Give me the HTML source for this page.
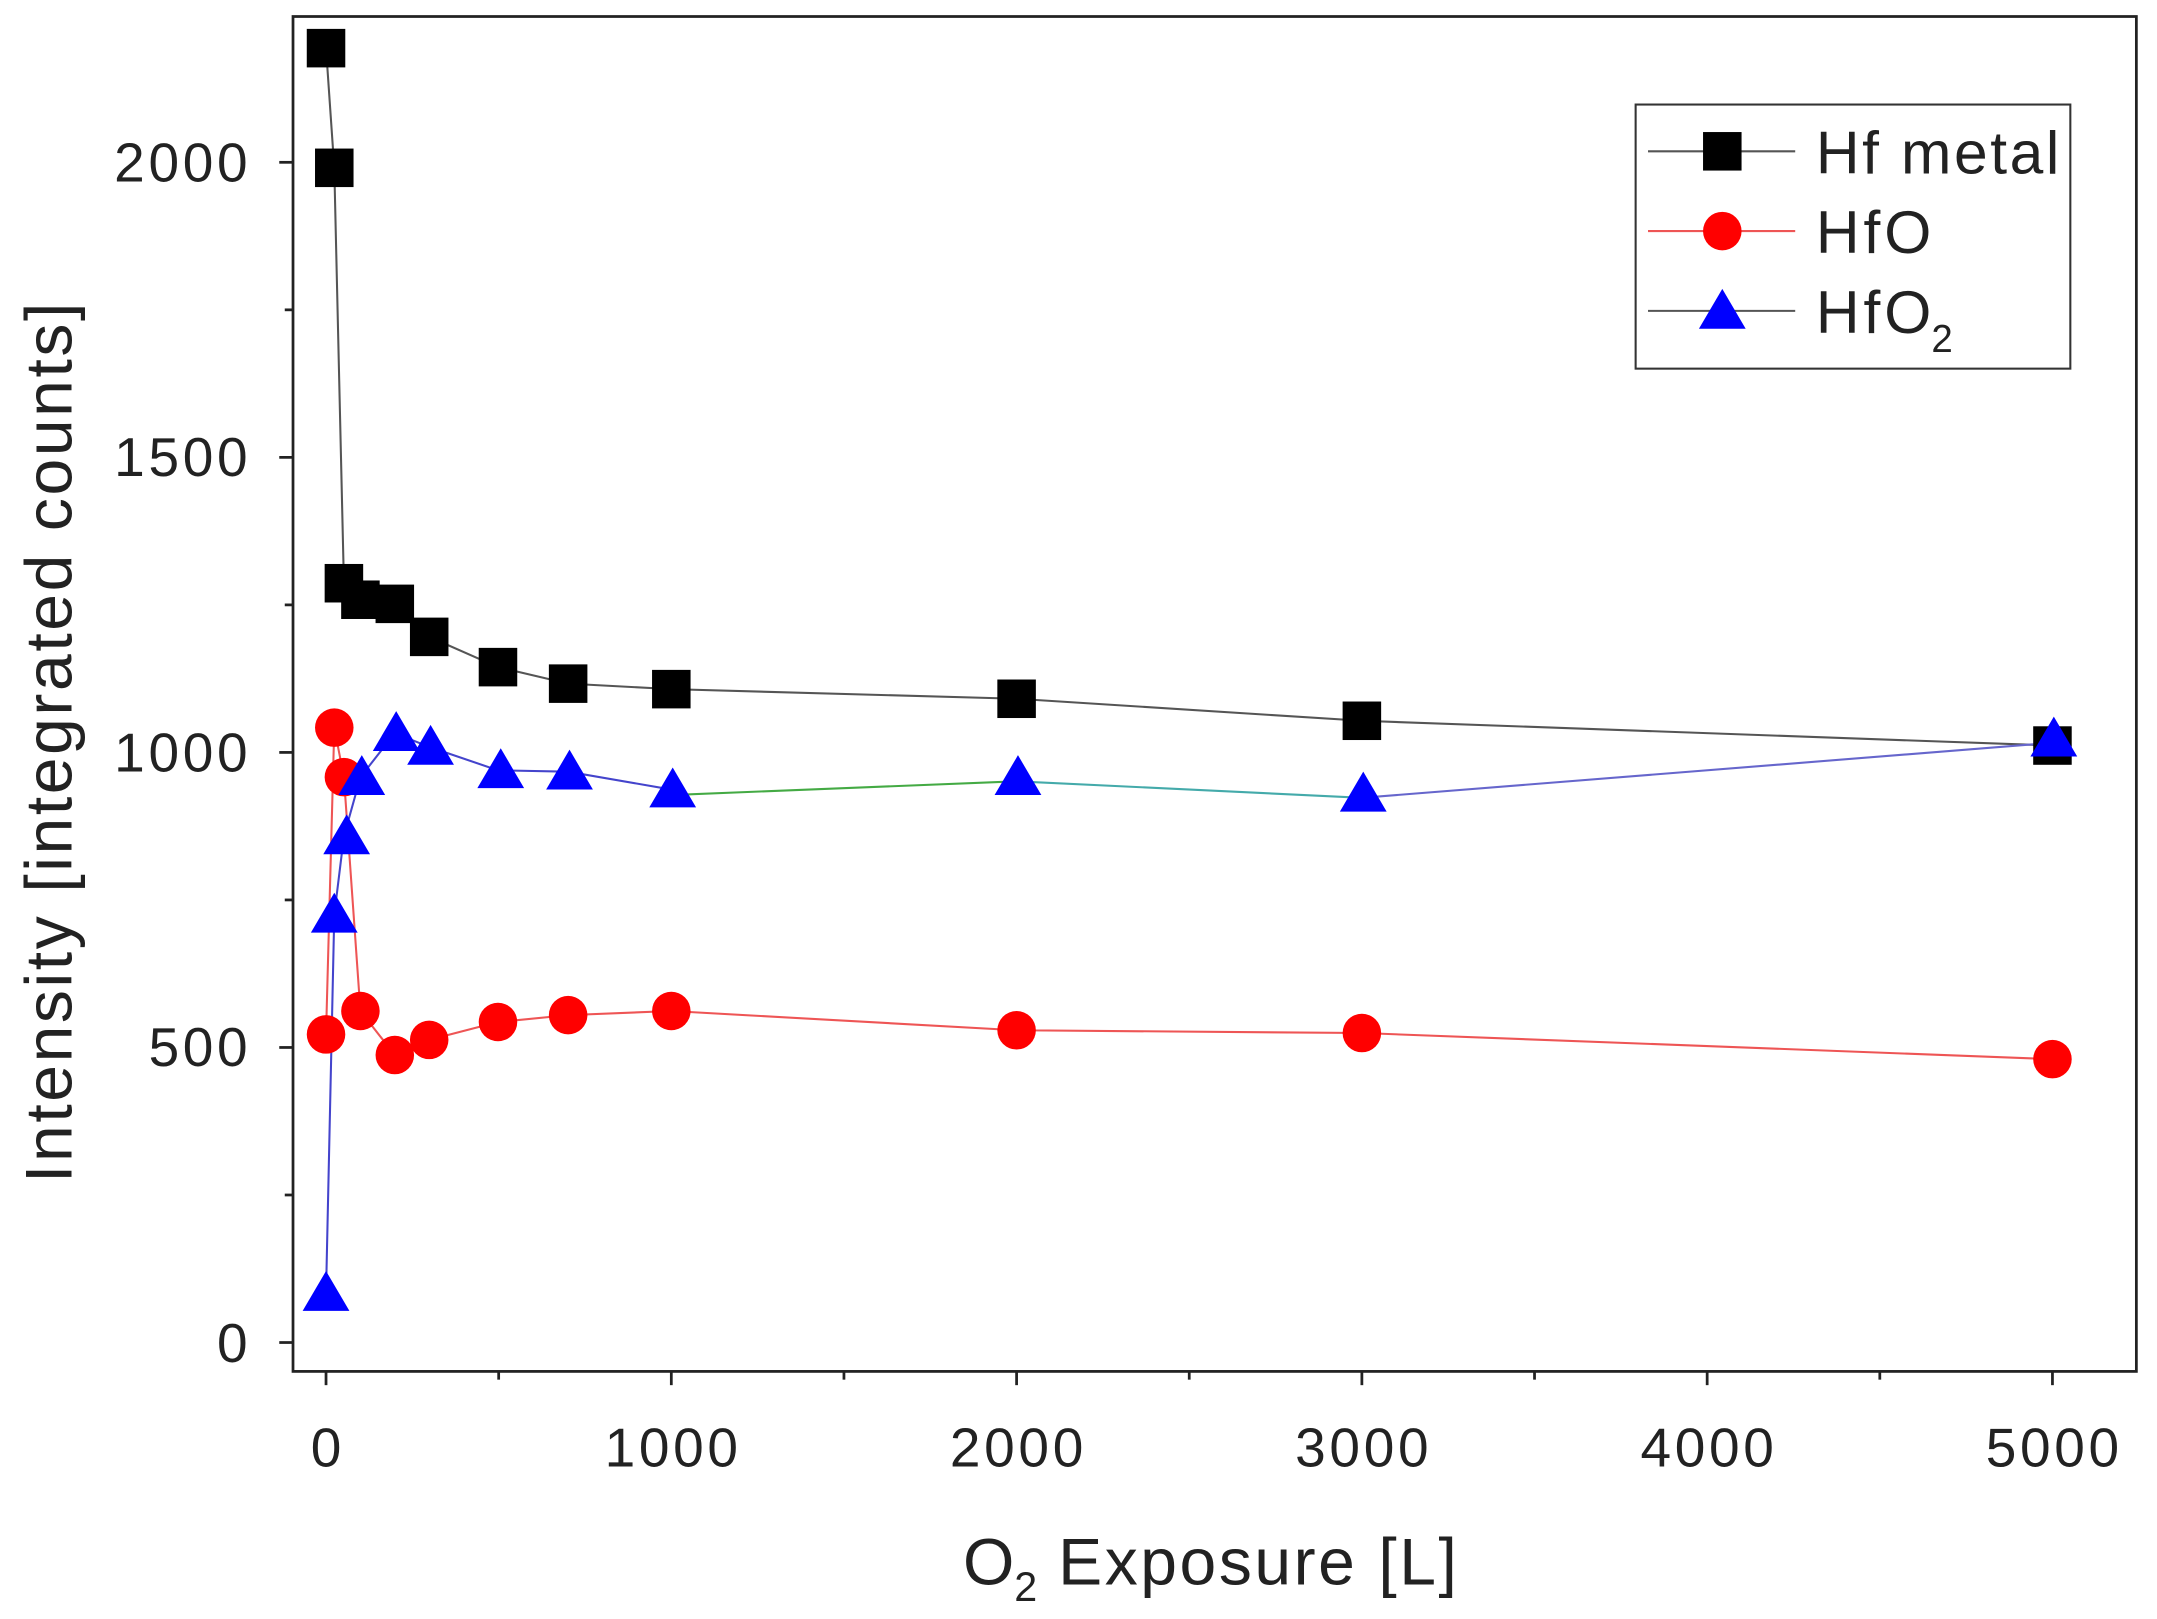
<!DOCTYPE html>
<html><head><meta charset="utf-8"><style>html,body{margin:0;padding:0;background:#fff}svg{display:block}</style></head><body>
<svg width="2157" height="1619" viewBox="0 0 1568 1177" preserveAspectRatio="none" xmlns="http://www.w3.org/2000/svg" font-family="Liberation Sans, sans-serif">
<defs>
<rect id="sq" x="-14" y="-14" width="28" height="28" fill="#000"/>
<circle id="ci" r="14" fill="#f00"/>
<polygon id="tr" points="0,-16 17,13 -17,13" fill="#00f"/>
</defs>
<rect x="213" y="12" width="1340" height="985" fill="none" stroke="#222" stroke-width="2"/>
<g stroke="#222" stroke-width="2">
<line x1="203" y1="976" x2="213" y2="976"/><line x1="203" y1="761.5" x2="213" y2="761.5"/><line x1="203" y1="547" x2="213" y2="547"/><line x1="203" y1="332.5" x2="213" y2="332.5"/><line x1="203" y1="118" x2="213" y2="118"/>
<line x1="207" y1="868.75" x2="213" y2="868.75"/><line x1="207" y1="654.25" x2="213" y2="654.25"/><line x1="207" y1="439.75" x2="213" y2="439.75"/><line x1="207" y1="225.25" x2="213" y2="225.25"/>
<line x1="237" y1="997" x2="237" y2="1007"/><line x1="488" y1="997" x2="488" y2="1007"/><line x1="739" y1="997" x2="739" y2="1007"/><line x1="990" y1="997" x2="990" y2="1007"/><line x1="1241" y1="997" x2="1241" y2="1007"/><line x1="1492" y1="997" x2="1492" y2="1007"/>
<line x1="362.5" y1="997" x2="362.5" y2="1003"/><line x1="613.5" y1="997" x2="613.5" y2="1003"/><line x1="864.5" y1="997" x2="864.5" y2="1003"/><line x1="1115.5" y1="997" x2="1115.5" y2="1003"/><line x1="1366.5" y1="997" x2="1366.5" y2="1003"/>
</g>
<g font-size="40" fill="#222" text-anchor="end">
<text x="180" y="990">0</text><text x="180" y="775" textLength="72">500</text><text x="180" y="561" textLength="97">1000</text><text x="180" y="346" textLength="97">1500</text><text x="180" y="132" textLength="97">2000</text>
</g>
<g font-size="40" fill="#222" text-anchor="middle">
<text x="237" y="1066">0</text><text x="488" y="1066" textLength="97">1000</text><text x="739" y="1066" textLength="97">2000</text><text x="990" y="1066" textLength="97">3000</text><text x="1241" y="1066" textLength="97">4000</text><text x="1492" y="1066" textLength="97">5000</text>
</g>
<text x="700" y="1152" font-size="48" fill="#222">O<tspan font-size="30" dy="12">2</tspan><tspan dy="-12" textLength="305"> Exposure [L]</tspan></text>
<text transform="translate(52,540) rotate(-90)" font-size="48" fill="#222" text-anchor="middle" textLength="640">Intensity [integrated counts]</text>
<polyline fill="none" stroke="#555" stroke-width="1.5" points="237,35 243,122 250,424 262,436 287,439 312,463 362,485 413,497 488,501 739,508 990,524 1492,542"/>
<polyline fill="none" stroke="#e55" stroke-width="1.5" points="237,752 243,529 250,565 262,735 287,767 312,756 362,743 413,738 488,735 739,749 990,751 1492,770"/>
<polyline fill="none" stroke="#44c" stroke-width="1.5" points="237,940 243,665 250,608 262,565 287,533 312,543 362,560 413,561 488,574"/>
<line x1="488" y1="578" x2="739" y2="568" stroke="#4a4" stroke-width="1.5"/>
<line x1="739" y1="568" x2="990" y2="580" stroke="#4aa" stroke-width="1.5"/>
<line x1="990" y1="580" x2="1492" y2="540" stroke="#66c" stroke-width="1.5"/>
<g>
<use href="#sq" x="237" y="35"/><use href="#sq" x="243" y="122"/><use href="#sq" x="250" y="424"/><use href="#sq" x="262" y="436"/><use href="#sq" x="287" y="439"/><use href="#sq" x="312" y="463"/><use href="#sq" x="362" y="485"/><use href="#sq" x="413" y="497"/><use href="#sq" x="488" y="501"/><use href="#sq" x="739" y="508"/><use href="#sq" x="990" y="524"/><use href="#sq" x="1492" y="542"/>
<use href="#ci" x="237" y="752"/><use href="#ci" x="243" y="529"/><use href="#ci" x="250" y="565"/><use href="#ci" x="262" y="735"/><use href="#ci" x="287" y="767"/><use href="#ci" x="312" y="756"/><use href="#ci" x="362" y="743"/><use href="#ci" x="413" y="738"/><use href="#ci" x="488" y="735"/><use href="#ci" x="739" y="749"/><use href="#ci" x="990" y="751"/><use href="#ci" x="1492" y="770"/>
<use href="#tr" x="237" y="940"/><use href="#tr" x="243" y="665"/><use href="#tr" x="252" y="608"/><use href="#tr" x="263" y="565"/><use href="#tr" x="288" y="533"/><use href="#tr" x="313" y="543"/><use href="#tr" x="364" y="560"/><use href="#tr" x="414" y="561"/><use href="#tr" x="489" y="574"/><use href="#tr" x="740" y="565"/><use href="#tr" x="991" y="577"/><use href="#tr" x="1493" y="537"/>
</g>
<rect x="1189" y="76" width="316" height="192" fill="#fff" stroke="#333" stroke-width="1.5"/>
<line x1="1198" y1="110" x2="1305" y2="110" stroke="#555" stroke-width="1.5"/><use href="#sq" x="1252" y="110"/>
<line x1="1198" y1="168" x2="1305" y2="168" stroke="#e55" stroke-width="1.5"/><use href="#ci" x="1252" y="168"/>
<line x1="1198" y1="226" x2="1305" y2="226" stroke="#555" stroke-width="1.5"/><use href="#tr" x="1252" y="226"/>
<g font-size="44" fill="#222">
<text x="1320" y="126" textLength="177">Hf metal</text><text x="1320" y="184" textLength="84">HfO</text><text x="1320" y="242" textLength="84">HfO</text><text x="1404" y="256" font-size="28">2</text>
</g>
</svg>
</body></html>
